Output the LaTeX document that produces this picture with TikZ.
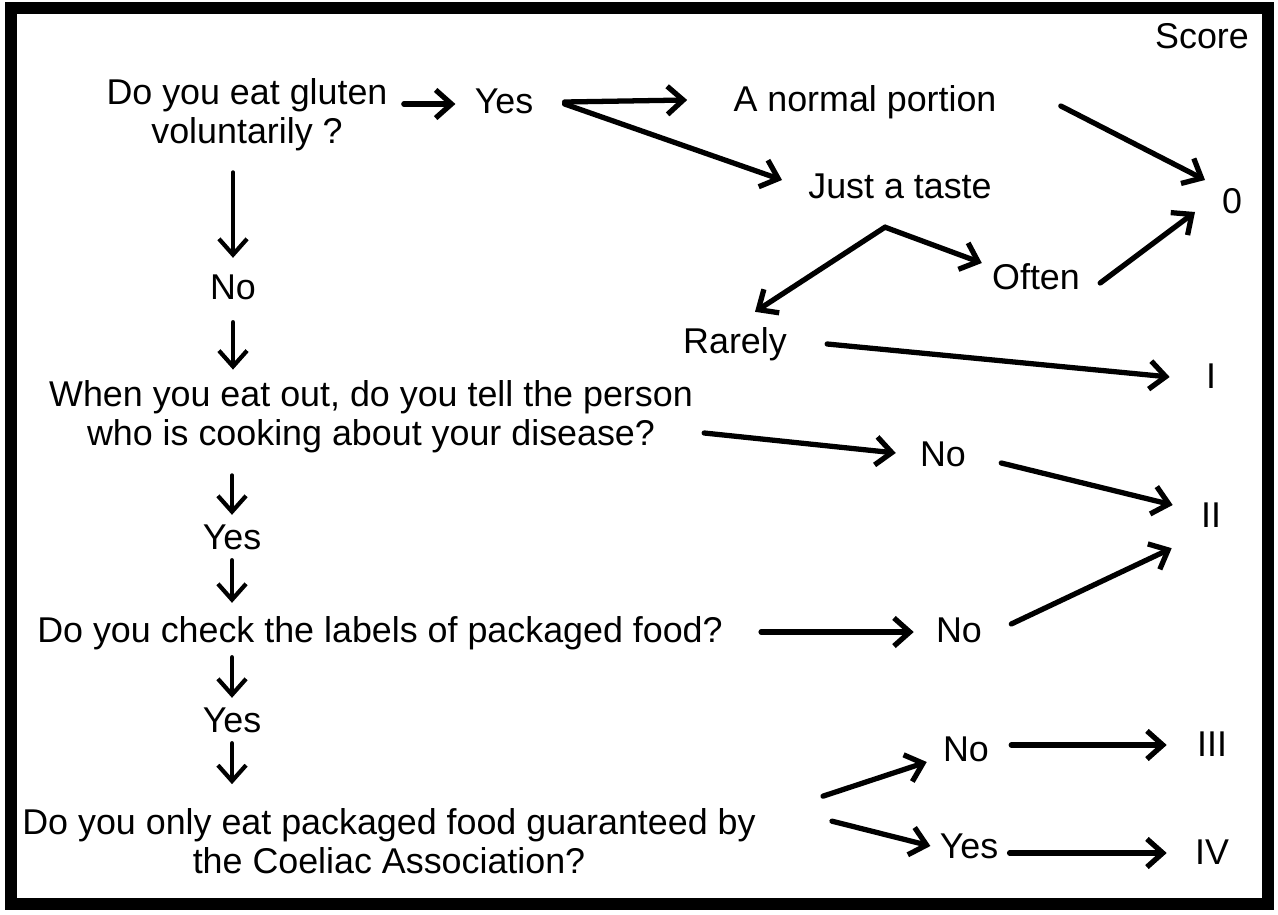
\documentclass[tikz,border=0pt]{standalone}
\usepackage{fontspec}
\setmainfont{Liberation Sans}
\usetikzlibrary{positioning, arrows.meta, calc}

\tikzset{
  lbl/.style={inner sep=0pt, text height=14.6pt, text depth=0pt},
  qst/.style={inner sep=0pt, align=center},
  arr/.style={-{Straight Barb[length=9pt, width=16pt]}, line width=3pt, line cap=round},
  varr/.style={arr, line width=2.4pt},
}

\begin{document}
\begin{tikzpicture}[x=0.02cm, y=-0.02cm, font=\fontsize{20.4}{22}\selectfont]

\useasboundingbox[fill=white] (0,0) rectangle (1278,915);
\draw[line width=6.8pt] (11,8) rectangle (1268,904);

% Questions
\node[qst] (gluten) at (247,115) {Do you eat gluten\\voluntarily ?};
\node[qst] (when) at (371,417) {When you eat out, do you tell the person\\who is cooking about your disease?};
\node[lbl] (check) at (380,630) {Do you check the labels of packaged food?};
\node[qst] (only) at (389,841) {Do you only eat packaged food guaranteed by\\the Coeliac Association?};

% Answers
\node[lbl] (yes1) at (504,101) {Yes};
\node[lbl] (portion) at (865,99) {A normal portion};
\node[lbl] (taste) at (900,186) {Just a taste};
\node[lbl] (often) at (1036,277) {Often};
\node[lbl] (rarely) at (735,341) {Rarely};
\node[lbl] (no1) at (233,287) {No};
\node[lbl] (no2) at (943,454) {No};
\node[lbl] (yes2) at (232,537) {Yes};
\node[lbl] (no3) at (959,630) {No};
\node[lbl] (yes3) at (232,720) {Yes};
\node[lbl] (no4) at (966,749) {No};
\node[lbl] (yes4) at (969,846) {Yes};

% Scores
\node[lbl] (score) at (1202,36) {Score};
\node[lbl] (s0) at (1232,201) {0};
\node[lbl] (s1) at (1211,376) {I};
\node[lbl] (s2) at (1211,515) {II};
\node[lbl] (s3) at (1212,744) {III};
\node[lbl] (s4) at (1212,852) {IV};

% Down the left column
\draw[varr] ($(gluten.south -| no1)+(0,21)$) -- ($(no1.north)+(0,-16)$);
\draw[varr] ($(no1.south)+(0,22)$) -- ($(when.north -| no1)+(0,-11)$);
\draw[varr] ($(when.south -| yes2)+(0,22)$) -- ($(yes2.north)+(0,-9)$);
\draw[varr] ($(yes2.south)+(0,10)$) -- ($(check.north -| yes2)+(0,-14)$);
\draw[varr] ($(check.south -| yes3)+(0,14)$) -- ($(yes3.north)+(0,-9)$);
\draw[varr] ($(yes3.south)+(0,10)$) -- ($(only.north -| yes3)+(0,-24)$);

% Eating gluten
\draw[arr] ($(gluten.east)+(16,-11)$) -- ($(yes1.west)+(-19,3)$);
\draw[arr] ($(yes1.east)+(31,1)$) -- ($(portion.west)+(-46,1)$);
\draw[arr] ($(yes1.east)+(31,3)$) -- ($(taste.west)+(-26,-6)$);
\draw[arr] ($(portion.east)+(64,7)$) -- ($(s0)+(-27,-21)$);
\coordinate (fork) at ($(taste.south)+(-15,28)$);
\draw[arr] (fork) -- ($(rarely.north)+(20,-16)$);
\draw[arr] (fork) -- ($(often.west)+(-10,-14)$);
\draw[arr] ($(often.east)+(20,6)$) -- ($(s0)+(-37,11)$);
\draw[arr] ($(rarely.east)+(40,3)$) -- ($(s1.west)+(-36,1)$);

% Other answers to scores
\draw[arr] ($(when.east)+(11,16)$) -- ($(no2.west)+(-24,-1)$);
\draw[arr] ($(no2.east)+(35,9)$) -- ($(s2.west)+(-28,-10)$);
\draw[arr] ($(check.east)+(38,2)$) -- ($(no3.west)+(-22,2)$);
\draw[arr] ($(no3.east)+(29,-6)$) -- ($(s2.south west)+(-29,20)$);
\draw[arr] ($(only.north east)+(67,-12)$) -- ($(no4.west)+(-16,13)$);
\draw[arr] ($(only.north east)+(76,13)$) -- ($(yes4.west)+(-9,0)$);
\draw[arr] ($(no4.east)+(22,-4)$) -- ($(s3.west)+(-30,1)$);
\draw[arr] ($(yes4.east)+(11,7)$) -- ($(s4.west)+(-28,1)$);

\end{tikzpicture}
\end{document}
